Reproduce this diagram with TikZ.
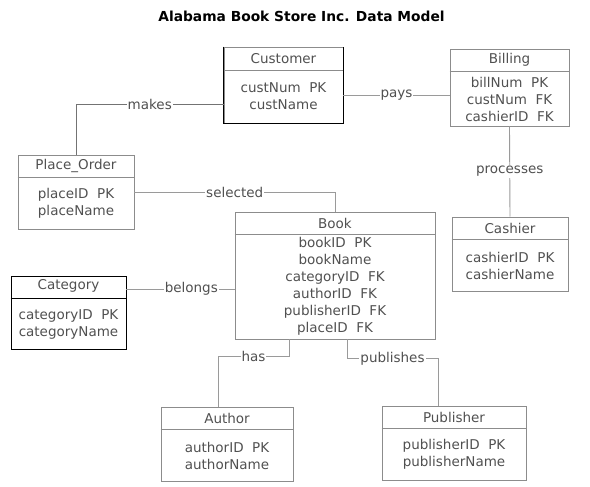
\documentclass[tikz,border=0pt]{standalone}
\usepackage{fontspec}
\setmainfont{DejaVu Sans}
\usetikzlibrary{calc}
\definecolor{boxgray}{HTML}{8C8C8C}
\definecolor{txtgray}{HTML}{505050}
\definecolor{linegray}{HTML}{9A9A9A}

\begin{document}
\begin{tikzpicture}[x=1pt,y=-1pt,
    entity/.style={draw=boxgray,line width=0.9pt,inner sep=0pt},
    head/.style={text=txtgray,font=\fontsize{13.5}{17}\selectfont,inner sep=0pt},
    attr/.style={text=txtgray,font=\fontsize{13.5}{17}\selectfont,align=center,inner sep=0pt},
    conn/.style={draw=linegray,line width=0.9pt},
    lbl/.style={fill=white,text=txtgray,font=\fontsize{13.5}{17}\selectfont,inner sep=1pt}]
                        \useasboundingbox (0,0) rectangle (590,487);
                        \node[font=\bfseries\fontsize{13.8}{16}\selectfont] (title) at (301.5,16) {Alabama Book Store Inc. Data Model};
                        % entity boxes
                        \node[entity,minimum width=119,minimum height=76] (customer) at (283.5,85) {};
                        \node[entity,minimum width=119,minimum height=77] (billing) at (509.5,87.5) {};
                        \node[entity,minimum width=116,minimum height=74] (placeorder) at (76,192) {};
                        \node[entity,minimum width=116,minimum height=74] (cashier) at (510,254) {};
                        \node[entity,minimum width=200,minimum height=127] (book) at (335,275.5) {};
                        \node[entity,minimum width=115,minimum height=73,draw=black] (category) at (68.5,312.5) {};
                        \node[entity,minimum width=132,minimum height=74] (author) at (227,444) {};
                        \node[entity,minimum width=144,minimum height=74] (publisher) at (454,443) {};
                        \draw[black,line width=0.9pt] (customer.north west) |- (customer.south east) -- (customer.north east);
                        % dividers
                        \draw[boxgray,line width=0.9pt] (customer.west |- 0,70) -- (customer.east |- 0,70);
                        \draw[boxgray,line width=0.9pt] (billing.west |- 0,71) -- (billing.east |- 0,71);
                        \draw[boxgray,line width=0.9pt] (placeorder.west |- 0,177) -- (placeorder.east |- 0,177);
                        \draw[boxgray,line width=0.9pt] (cashier.west |- 0,239) -- (cashier.east |- 0,239);
                        \draw[boxgray,line width=0.9pt] (book.west |- 0,234) -- (book.east |- 0,234);
                        \draw[black,line width=0.9pt] (category.west |- 0,298) -- (category.east |- 0,298);
                        \draw[boxgray,line width=0.9pt] (author.west |- 0,429) -- (author.east |- 0,429);
                        \draw[boxgray,line width=0.9pt] (publisher.west |- 0,428) -- (publisher.east |- 0,428);
                        % titles and attributes
                        \node[head] (customer-t) at (283.5,59) {Customer};
                        \node[attr] (customer-a) at (283.5,96.5) {custNum~~PK\\custName};
                        \node[head] (billing-t) at (509.5,60) {Billing};
                        \node[attr] (billing-a) at (509.5,99) {billNum~~PK\\custNum~~FK\\cashierID~~FK};
                        \node[head] (placeorder-t) at (76,166) {Place\_Order};
                        \node[attr] (placeorder-a) at (76,203.5) {placeID~~PK\\placeName};
                        \node[head] (cashier-t) at (510,228) {Cashier};
                        \node[attr] (cashier-a) at (510,265.5) {cashierID~~PK\\cashierName};
                        \node[head] (book-t) at (335,223) {Book};
                        \node[attr] (book-a) at (335,286.5) {bookID~~PK\\bookName\\categoryID~~FK\\authorID~~FK\\publisherID~~FK\\placeID~~FK};
                        \node[head] (category-t) at (68.5,286) {Category};
                        \node[attr] (category-a) at (68.5,324) {categoryID~~PK\\categoryName};
                        \node[head] (author-t) at (227,418) {Author};
                        \node[attr] (author-a) at (227,455.5) {authorID~~PK\\authorName};
                        \node[head] (publisher-t) at (454,417) {Publisher};
                        \node[attr] (publisher-a) at (454,454.5) {publisherID~~PK\\publisherName};
                        % relationships
                        \draw[conn,draw=txtgray!80] (placeorder.north) |- node[lbl,pos=0.75] {makes} (customer.west |- 0,104);
                        \draw[conn] (customer.east |- 0,95) -- node[lbl] {pays} (billing.west |- 0,95);
                        \draw[conn] (billing.south) -- node[lbl] {processes} (cashier.north);
                        \draw[conn] (placeorder.east |- 0,192) -| node[lbl,pos=0.25] {selected} (book.north);
                        \draw[conn] (category.east |- 0,289) -- node[lbl,pos=0.6] {belongs} (book.west |- 0,289);
                        \draw[conn] (book.south -| 289,0) -- ++(0,17) -| node[lbl,pos=0.25] {has} (author.north -| 218,0);
                        \draw[conn] (book.south -| 347,0) -- ++(0,19) -| node[lbl,pos=0.25] {publishes} (publisher.north -| 438,0);
                    \end{tikzpicture}
\end{document}
